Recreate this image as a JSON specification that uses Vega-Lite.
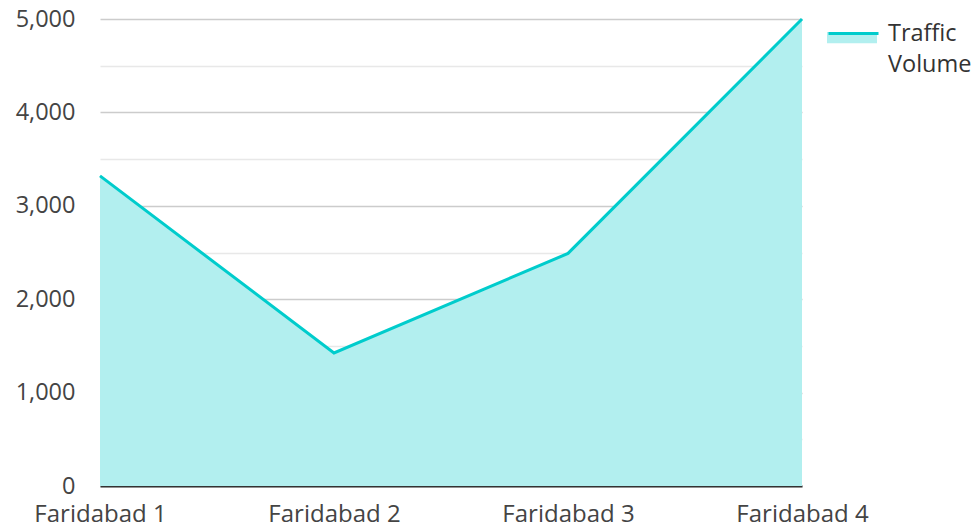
{
  "$schema": "https://vega.github.io/schema/vega-lite/v6.json",
  "width": 702,
  "height": 467,
  "autosize": {"type": "none"},
  "padding": {"left": 100, "top": 19, "right": 174, "bottom": 40},
  "config": {"font": "Open Sans", "view": {"stroke": null}},
  "data": {
    "values": [
      {"location": "Faridabad 1", "volume": 3320, "series": "Traffic Volume"},
      {"location": "Faridabad 2", "volume": 1425, "series": "Traffic Volume"},
      {"location": "Faridabad 3", "volume": 2490, "series": "Traffic Volume"},
      {"location": "Faridabad 4", "volume": 5000, "series": "Traffic Volume"}
    ]
  },
  "encoding": {
    "x": {
      "field": "location",
      "type": "ordinal",
      "sort": null,
      "scale": {"type": "point", "padding": 0},
      "axis": {
        "title": null,
        "labelAngle": 0,
        "labelFontSize": 24,
        "labelColor": "#444",
        "ticks": false,
        "grid": false,
        "domainColor": "#333",
        "domainWidth": 2,
        "labelPadding": 16
      }
    },
    "y": {
      "field": "volume",
      "type": "quantitative",
      "scale": {"domain": [0, 5000], "nice": false},
      "axis": {
        "title": null,
        "values": [0, 500, 1000, 1500, 2000, 2500, 3000, 3500, 4000, 4500, 5000],
        "labelExpr": "datum.value % 1000 === 0 ? format(datum.value, ',') : ''",
        "labelFontSize": 23.5,
        "labelColor": "#444",
        "labelPadding": 25,
        "ticks": false,
        "domain": false,
        "gridColor": {"condition": {"test": "datum.value % 1000 === 0", "value": "#cccccc"}, "value": "#e8e8e8"},
        "gridWidth": 1.5
      }
    }
  },
  "layer": [
    {
      "mark": {"type": "area", "opacity": 1},
      "encoding": {
        "fill": {
          "datum": "fillkey",
          "scale": {"range": ["#b2efef"]},
          "legend": {
            "orient": "none",
            "legendX": 727,
            "legendY": -12,
            "title": null,
            "symbolType": "M-1,0H1V0.45H-1Z",
            "symbolSize": 2500,
            "symbolStrokeWidth": 0,
            "labelExpr": "''",
            "labelFontSize": 20
          }
        }
      }
    },
    {
      "mark": {"type": "line", "strokeWidth": 3},
      "encoding": {
        "stroke": {
          "field": "series",
          "type": "nominal",
          "scale": {"range": ["#00cccc"]},
          "legend": {
            "orient": "none",
            "legendX": 727,
            "legendY": -12,
            "title": null,
            "symbolType": "stroke",
            "symbolSize": 2500,
            "symbolStrokeWidth": 3,
            "labelExpr": "['Traffic', 'Volume']",
            "labelFontSize": 23.5,
            "labelColor": "#333",
            "labelBaseline": "top",
            "labelOffset": 8,
            "labelLimit": 200,
            "encode": {"labels": {"update": {"lineHeight": {"value": 31}, "dy": {"value": -12}}}}
          }
        }
      }
    }
  ]
}
